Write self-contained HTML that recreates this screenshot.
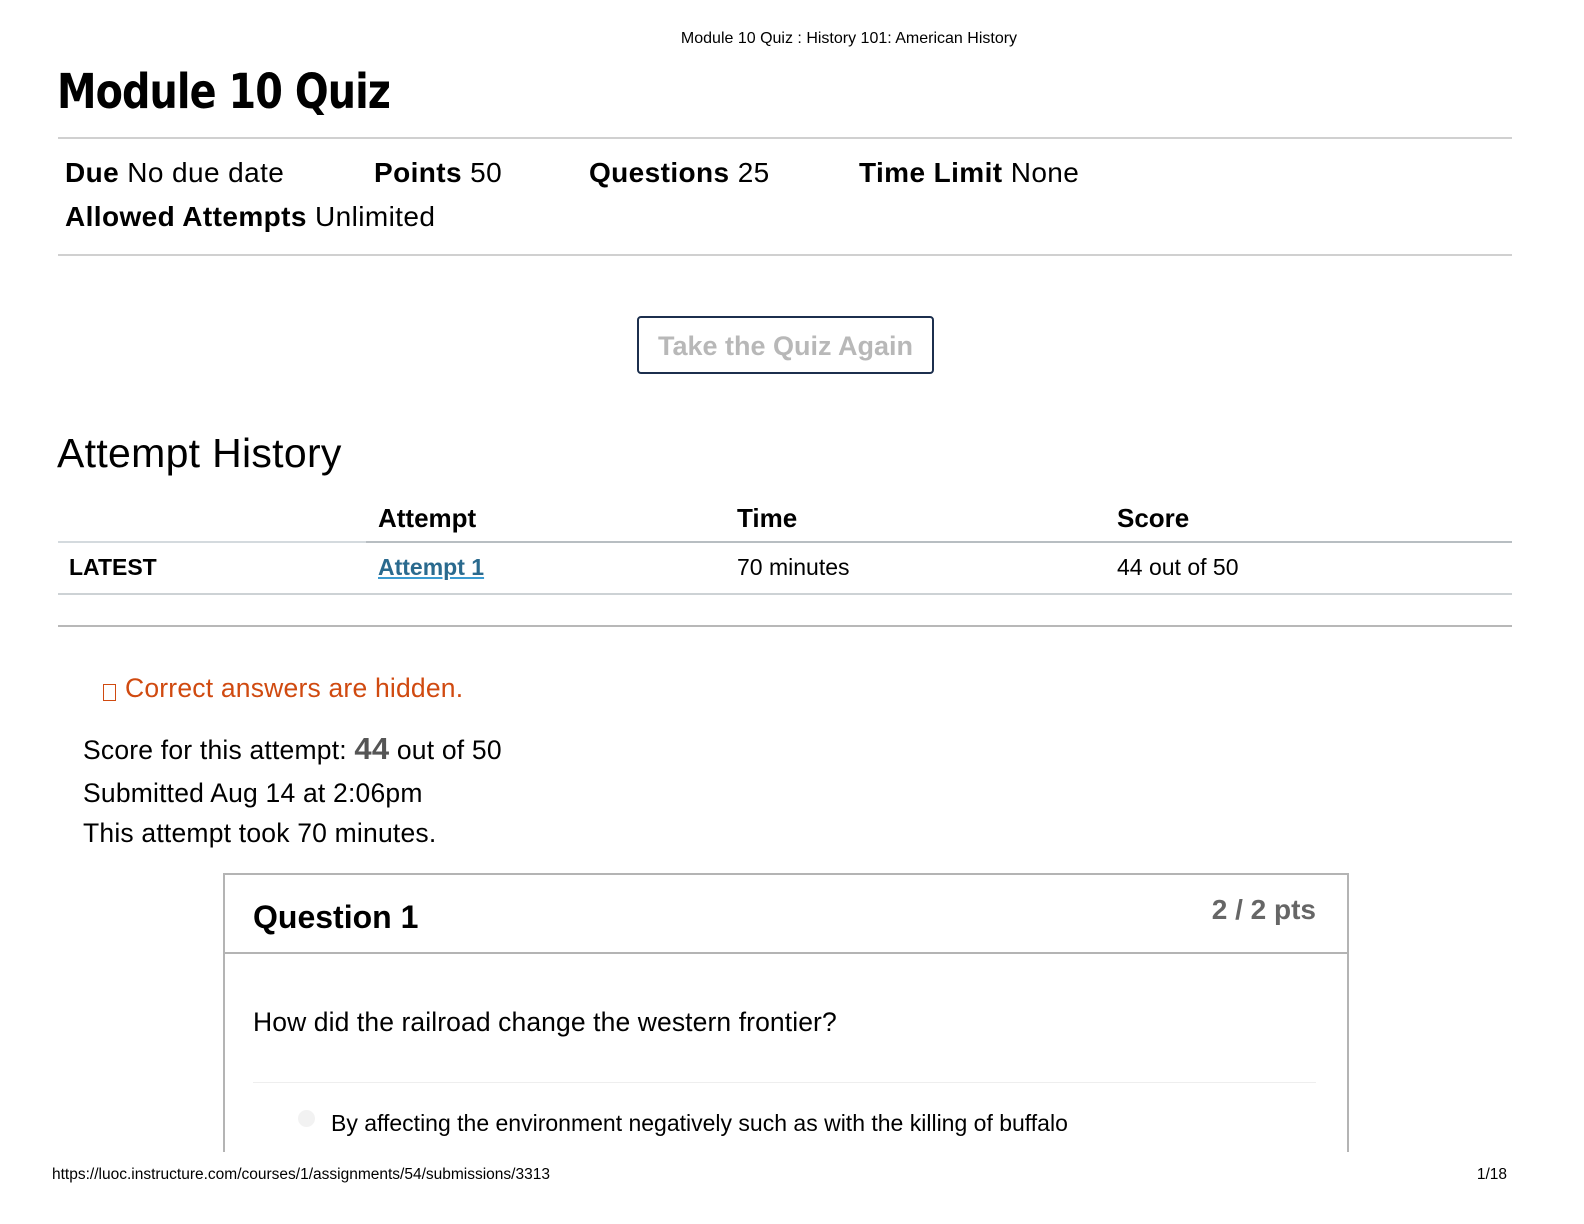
<!DOCTYPE html>
<html><head><meta charset="utf-8"><style>
body{margin:0;width:1584px;height:1224px;position:relative;background:#fff;font-family:"Liberation Sans",sans-serif;color:#000;overflow:hidden}
.t{position:absolute;line-height:1;white-space:nowrap}
.hl{position:absolute;height:0}
b{font-weight:bold}
</style></head><body>
<div class="t" style="left:0;width:1698px;text-align:center;top:31px;font-size:16px">Module 10 Quiz : History 101: American History</div>
<div class="t" style="left:57px;top:68px;font-size:48px;font-weight:bold;font-family:'DejaVu Sans Condensed','DejaVu Sans',sans-serif;font-stretch:condensed;letter-spacing:-1px;transform:scaleX(0.92);transform-origin:0 0">Module 10 Quiz</div>
<div class="hl" style="left:58px;width:1454px;top:137px;border-top:2px solid #d0d0d0"></div>
<div class="t" style="left:65px;top:159px;font-size:28px;letter-spacing:0.4px"><b>Due</b> No due date</div>
<div class="t" style="left:374px;top:159px;font-size:28px;letter-spacing:0.4px"><b>Points</b> 50</div>
<div class="t" style="left:589px;top:159px;font-size:28px;letter-spacing:0.4px"><b>Questions</b> 25</div>
<div class="t" style="left:859px;top:159px;font-size:28px;letter-spacing:0.4px"><b>Time Limit</b> None</div>
<div class="t" style="left:65px;top:203px;font-size:28px;letter-spacing:0.4px"><b>Allowed Attempts</b> Unlimited</div>
<div class="hl" style="left:58px;width:1454px;top:254px;border-top:2px solid #d0d0d0"></div>
<div style="position:absolute;left:637px;top:316px;width:293px;height:54px;border:2px solid #1c2f4d;border-radius:4px"></div>
<div class="t" style="left:637px;width:297px;text-align:center;top:333px;font-size:27px;font-weight:bold;color:#b8b8b8">Take the Quiz Again</div>
<div class="t" style="left:57px;top:433px;font-size:41px;letter-spacing:0.3px">Attempt History</div>
<div class="t" style="left:378px;top:505px;font-size:26px;font-weight:bold">Attempt</div>
<div class="t" style="left:737px;top:505px;font-size:26px;font-weight:bold">Time</div>
<div class="t" style="left:1117px;top:505px;font-size:26px;font-weight:bold">Score</div>
<div class="hl" style="left:58px;width:308px;top:541px;border-top:2px solid #d4dade"></div>
<div class="hl" style="left:366px;width:1146px;top:541px;border-top:2px solid #b8bec2"></div>
<div class="t" style="left:69px;top:556px;font-size:23px;font-weight:bold">LATEST</div>
<div class="t" style="left:378px;top:556px;font-size:23px;font-weight:bold;color:#2a6a8e;text-decoration:underline;text-decoration-color:#3a9ad0">Attempt 1</div>
<div class="t" style="left:737px;top:556px;font-size:23px">70 minutes</div>
<div class="t" style="left:1117px;top:556px;font-size:23px">44 out of 50</div>
<div class="hl" style="left:58px;width:1454px;top:593px;border-top:2px solid #cdd2d5"></div>
<div class="hl" style="left:58px;width:1454px;top:625px;border-top:2px solid #b8b8b8"></div>
<div style="position:absolute;left:103px;top:684px;width:11px;height:15px;border:1px solid #d04a10"></div>
<div class="t" style="left:125px;top:675px;font-size:26.5px;color:#d04a10;letter-spacing:0.2px">Correct answers are hidden.</div>
<div class="t" style="left:83px;top:733px;font-size:26.5px;letter-spacing:0.2px">Score for this attempt: <b style="font-size:31px;color:#555">44</b> out of 50</div>
<div class="t" style="left:83px;top:780px;font-size:26.5px;letter-spacing:0.2px">Submitted Aug 14 at 2:06pm</div>
<div class="t" style="left:83px;top:820px;font-size:26.5px;letter-spacing:0.2px">This attempt took 70 minutes.</div>
<div style="position:absolute;left:223px;top:873px;width:1122px;height:290px;border:2px solid #b4b4b4;border-bottom:none"></div>
<div class="hl" style="left:223px;width:1124px;top:952px;border-top:2px solid #b4b4b4"></div>
<div class="t" style="left:253px;top:901px;font-size:32px;font-weight:bold">Question 1</div>
<div class="t" style="left:1100px;width:216px;text-align:right;top:896px;font-size:28px;font-weight:bold;color:#666">2 / 2 pts</div>
<div class="t" style="left:253px;top:1009px;font-size:26.5px;letter-spacing:0.1px">How did the railroad change the western frontier?</div>
<div class="hl" style="left:253px;width:1063px;top:1082px;border-top:1px solid #eee"></div>
<div style="position:absolute;left:298px;top:1110px;width:17px;height:17px;border-radius:50%;background:#f2f2f2"></div>
<div class="t" style="left:331px;top:1112px;font-size:23px">By affecting the environment negatively such as with the killing of buffalo</div>
<div style="position:absolute;left:0;top:1152px;width:1584px;height:72px;background:#fff"></div>
<div class="t" style="left:52px;top:1167px;font-size:15.5px">https://luoc.instructure.com/courses/1/assignments/54/submissions/3313</div>
<div class="t" style="left:1400px;width:107px;text-align:right;top:1167px;font-size:15.5px">1/18</div>
</body></html>
